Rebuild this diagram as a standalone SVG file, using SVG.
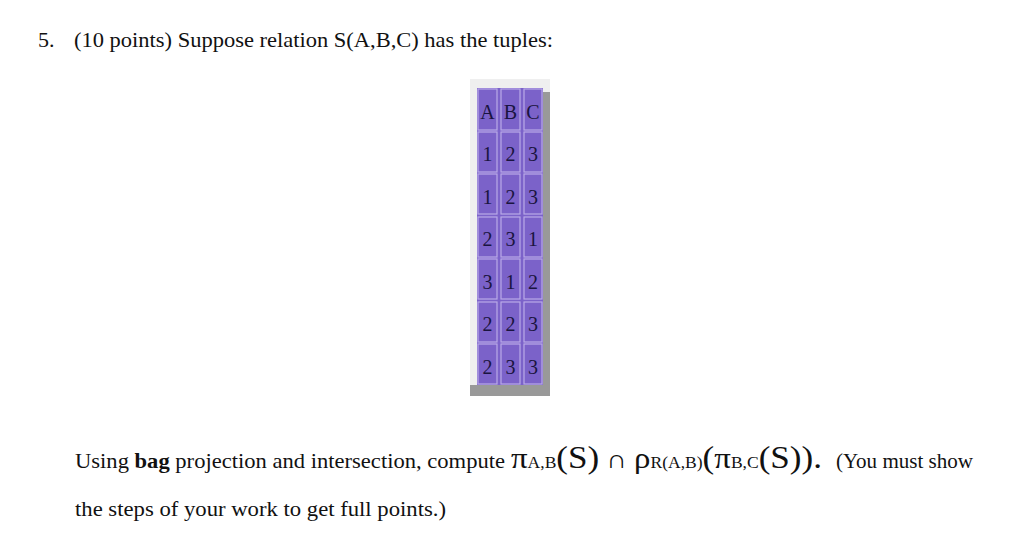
<svg xmlns="http://www.w3.org/2000/svg" width="1024" height="538" viewBox="0 0 1024 538">
<style>
text{font-family:"Liberation Serif",serif;fill:#111}
.t{font-size:22px}
.c{fill:#7b62c9;stroke:#b9aae8;stroke-width:1.2}
.v{font-size:20px;fill:#1a1440;text-anchor:middle}
.s{font-size:16px}
.b{font-size:32px}
</style>
<rect width="1024" height="538" fill="#fff"/>
<text class="t" x="38" y="47">5.</text>
<text class="t" x="74" y="47" textLength="479" lengthAdjust="spacingAndGlyphs">(10 points) Suppose relation S(A,B,C) has the tuples:</text>
<g id="table">
<rect x="470" y="79" width="80" height="317" fill="#efefef"/>
<rect x="542" y="92" width="8" height="304" fill="#999"/>
<rect x="470" y="385" width="80" height="11" fill="#999"/>
<rect x="477" y="88" width="66" height="297" fill="#7b62c9"/>
<g id="cells">
<rect class="c" x="478" y="89" width="19" height="41"/><rect class="c" x="501" y="89" width="19" height="41"/><rect class="c" x="524" y="89" width="18" height="41"/>
<rect class="c" x="478" y="132" width="19" height="40"/><rect class="c" x="501" y="132" width="19" height="40"/><rect class="c" x="524" y="132" width="18" height="40"/>
<rect class="c" x="478" y="174" width="19" height="40"/><rect class="c" x="501" y="174" width="19" height="40"/><rect class="c" x="524" y="174" width="18" height="40"/>
<rect class="c" x="478" y="217" width="19" height="40"/><rect class="c" x="501" y="217" width="19" height="40"/><rect class="c" x="524" y="217" width="18" height="40"/>
<rect class="c" x="478" y="259" width="19" height="40"/><rect class="c" x="501" y="259" width="19" height="40"/><rect class="c" x="524" y="259" width="18" height="40"/>
<rect class="c" x="478" y="302" width="19" height="40"/><rect class="c" x="501" y="302" width="19" height="40"/><rect class="c" x="524" y="302" width="18" height="40"/>
<rect class="c" x="478" y="344" width="19" height="40"/><rect class="c" x="501" y="344" width="19" height="40"/><rect class="c" x="524" y="344" width="18" height="40"/>
</g>
<g id="values">
<text class="v" x="487.5" y="119">A</text><text class="v" x="510.5" y="119">B</text><text class="v" x="533" y="119">C</text>
<text class="v" x="487.5" y="161">1</text><text class="v" x="510.5" y="161">2</text><text class="v" x="533" y="161">3</text>
<text class="v" x="487.5" y="204">1</text><text class="v" x="510.5" y="204">2</text><text class="v" x="533" y="204">3</text>
<text class="v" x="487.5" y="246">2</text><text class="v" x="510.5" y="246">3</text><text class="v" x="533" y="246">1</text>
<text class="v" x="487.5" y="289">3</text><text class="v" x="510.5" y="289">1</text><text class="v" x="533" y="289">2</text>
<text class="v" x="487.5" y="331">2</text><text class="v" x="510.5" y="331">2</text><text class="v" x="533" y="331">3</text>
<text class="v" x="487.5" y="374">2</text><text class="v" x="510.5" y="374">3</text><text class="v" x="533" y="374">3</text>
</g>
</g>
<text class="t" x="75" y="468" textLength="430" lengthAdjust="spacingAndGlyphs">Using <tspan font-weight="bold">bag</tspan> projection and intersection, compute</text>
<text x="511" y="468" textLength="311" lengthAdjust="spacingAndGlyphs"><tspan font-size="30">π</tspan><tspan class="s">A,B</tspan><tspan class="b">(S)</tspan><tspan font-size="26"> ∩ </tspan><tspan font-size="30">ρ</tspan><tspan class="s">R(A,B)</tspan><tspan class="b">(</tspan><tspan font-size="30">π</tspan><tspan class="s">B,C</tspan><tspan class="b">(S)).</tspan></text>
<text class="t" x="836" y="468" textLength="137" lengthAdjust="spacingAndGlyphs">(You must show</text>
<text class="t" x="75" y="516" textLength="371" lengthAdjust="spacingAndGlyphs">the steps of your work to get full points.)</text>
</svg>
